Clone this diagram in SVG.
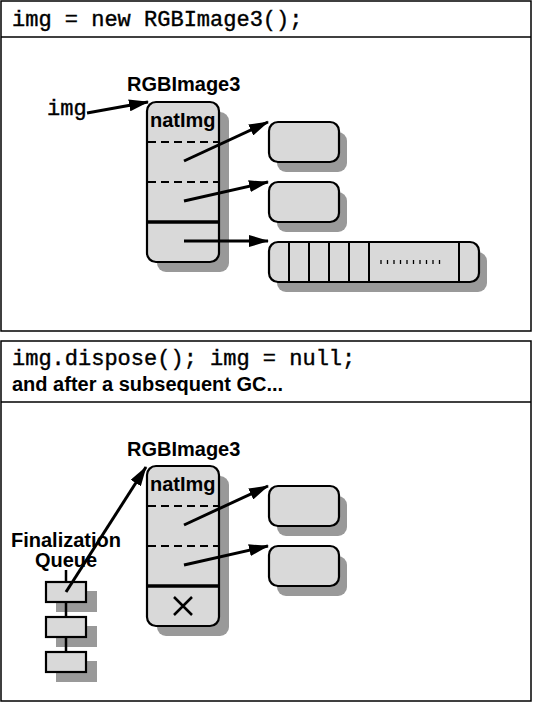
<svg xmlns="http://www.w3.org/2000/svg" width="533" height="703" viewBox="0 0 533 703">
<style>
.frame{fill:#fff;stroke:#000;stroke-width:1.5}
.sep{stroke:#000;stroke-width:1.5}
.code{font-family:"Liberation Mono","Courier New",monospace;font-size:22px;fill:#000;stroke:#000;stroke-width:0.4}
.lbl{font-family:"Liberation Sans",Arial,sans-serif;font-weight:bold;font-size:20px;fill:#000}
.box{fill:#d9d9d9;stroke:#000;stroke-width:2.2}
.shadow{fill:#999}
.dash{stroke:#000;stroke-width:2;stroke-dasharray:8 5}
.thick{stroke:#000;stroke-width:3.5}
.div{stroke:#000;stroke-width:2}
.conn{stroke:#000;stroke-width:3;fill:none;marker-end:url(#ah)}
</style>
<defs>
<marker id="ah" viewBox="0 0 20 12" refX="19" refY="6" markerWidth="20" markerHeight="12" markerUnits="userSpaceOnUse" orient="auto">
<path d="M0,0 L20,6 L0,12 z" fill="#000"/>
</marker>
</defs>

<g id="panel1">
<rect class="frame" x="1" y="1" width="530" height="330"/>
<line class="sep" x1="1" y1="37" x2="531" y2="37"/>
<text class="code" x="12" y="26">img = new RGBImage3();</text>
</g>

<g id="panel2">
<rect class="frame" x="1" y="341" width="530" height="360"/>
<line class="sep" x1="1" y1="402" x2="531" y2="402"/>
<text class="code" x="12" y="365">img.dispose(); img = null;</text>
<text class="lbl" x="12" y="391">and after a subsequent GC...</text>
</g>

<!-- Panel 1 nodes -->
<g id="img-var">
<text class="code" x="47" y="115">img</text>
</g>

<g id="rgbimage3-a">
<text class="lbl" x="127" y="91">RGBImage3</text>
<rect class="shadow" x="157" y="112" width="72" height="160" rx="9"/>
<rect class="box" x="147" y="102" width="72" height="160" rx="9"/>
<text class="lbl" x="150" y="127">natImg</text>
<line class="dash" x1="148" y1="142" x2="218" y2="142"/>
<line class="dash" x1="148" y1="182" x2="218" y2="182"/>
<line class="thick" x1="148" y1="222" x2="218" y2="222"/>
</g>

<g id="buf-a1">
<rect class="shadow" x="277" y="132" width="70" height="40" rx="9"/>
<rect class="box" x="269" y="122" width="70" height="40" rx="9"/>
</g>

<g id="buf-a2">
<rect class="shadow" x="277" y="192" width="70" height="40" rx="9"/>
<rect class="box" x="269" y="182" width="70" height="40" rx="9"/>
</g>

<g id="array-a">
<rect class="shadow" x="277" y="252" width="210" height="40" rx="9"/>
<rect class="box" x="269" y="242" width="210" height="40" rx="9"/>
<line class="div" x1="289" y1="242" x2="289" y2="282"/>
<line class="div" x1="309" y1="242" x2="309" y2="282"/>
<line class="div" x1="329" y1="242" x2="329" y2="282"/>
<line class="div" x1="349" y1="242" x2="349" y2="282"/>
<line class="div" x1="369" y1="242" x2="369" y2="282"/>
<line class="div" x1="459" y1="242" x2="459" y2="282"/>
<path d="M381,260v4M387.5,260v4M394,260v4M400.5,260v4M407,260v4M413.5,260v4M420,260v4M426.5,260v4M433,260v4M439.5,260v4" stroke="#000" stroke-width="1.3"/>
</g>

<!-- Panel 2 nodes -->
<g id="rgbimage3-b">
<text class="lbl" x="127" y="456">RGBImage3</text>
<rect class="shadow" x="157" y="476" width="72" height="160" rx="9"/>
<rect class="box" x="147" y="466" width="72" height="160" rx="9"/>
<text class="lbl" x="150" y="491">natImg</text>
<line class="dash" x1="148" y1="506" x2="218" y2="506"/>
<line class="dash" x1="148" y1="546" x2="218" y2="546"/>
<line class="thick" x1="148" y1="586" x2="218" y2="586"/>
<path d="M174,597 L192,615 M192,597 L174,615" stroke="#000" stroke-width="2.5"/>
</g>

<g id="buf-b1">
<rect class="shadow" x="277" y="496" width="70" height="40" rx="9"/>
<rect class="box" x="269" y="486" width="70" height="40" rx="9"/>
</g>

<g id="buf-b2">
<rect class="shadow" x="277" y="556" width="70" height="40" rx="9"/>
<rect class="box" x="269" y="546" width="70" height="40" rx="9"/>
</g>

<g id="finalization-queue">
<text class="lbl" x="66" y="547" text-anchor="middle">Finalization</text>
<text class="lbl" x="66" y="567" text-anchor="middle">Queue</text>
<rect class="shadow" x="56" y="591" width="41" height="21"/>
<rect class="shadow" x="56" y="626" width="41" height="21"/>
<rect class="shadow" x="56" y="661" width="41" height="21"/>
<line x1="66" y1="570" x2="66" y2="662" stroke="#000" stroke-width="2.5"/>
<rect class="box" x="46" y="582" width="40" height="20"/>
<rect class="box" x="46" y="617" width="40" height="20"/>
<rect class="box" x="46" y="652" width="40" height="20"/>
</g>

<g id="connectors">
<line class="conn" x1="87" y1="113" x2="148" y2="102"/>
<line class="conn" x1="184" y1="161" x2="268" y2="122"/>
<line class="conn" x1="184" y1="201" x2="268" y2="182"/>
<line class="conn" x1="184" y1="241" x2="268" y2="241"/>
<line class="conn" x1="184" y1="525" x2="268" y2="486"/>
<line class="conn" x1="184" y1="565" x2="268" y2="546"/>
<line class="conn" x1="66" y1="592" x2="146" y2="467"/>
</g>
</svg>
